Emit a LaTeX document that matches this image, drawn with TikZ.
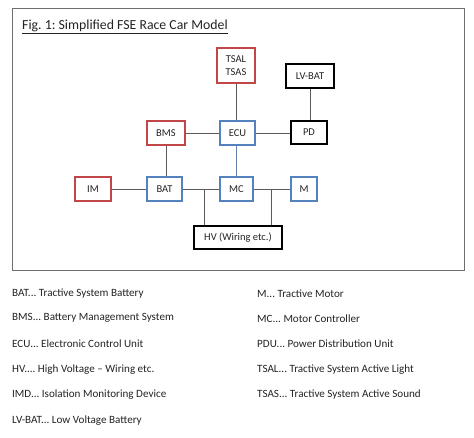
\documentclass[tikz,border=0pt]{standalone}
\usepackage{fontspec}
\setmainfont{Carlito}
\definecolor{boxred}{RGB}{192,70,72}
\definecolor{boxblue}{RGB}{85,130,190}
\definecolor{wire}{RGB}{90,90,90}
\definecolor{framec}{RGB}{110,110,110}
\definecolor{txt}{RGB}{35,35,35}
\begin{document}
\frenchspacing
\begin{tikzpicture}[x=1pt,y=-1pt,
  box/.style={draw,inner sep=0pt,font=\fontsize{10.5}{12}\selectfont,align=center,text=txt},
  redbox/.style={box,draw=boxred,line width=1.1pt},
  bluebox/.style={box,draw=boxblue,line width=1.1pt},
  blackbox/.style={box,draw=black,line width=1.7pt},
  conn/.style={draw=wire,line width=0.8pt},
  legend/.style={anchor=west,inner sep=0pt,text=txt,font=\fontsize{11.1}{13}\selectfont}]
\useasboundingbox (0,0) rectangle (474,437);
\draw[framec,line width=0.9pt] (12,8) rectangle (464,270);
\node[anchor=base west,inner sep=0pt,text=txt,font=\fontsize{13.8}{16}\selectfont] (title) at (22,29) {\underline{Fig. 1: Simplified FSE Race Car Model}};
\node[redbox,minimum width=38pt,minimum height=35pt] (tsal) at (236,65.5) {TSAL\\[1pt]TSAS};
\node[blackbox,minimum width=48pt,minimum height=24pt] (lvbat) at (310,76) {LV-BAT};
\node[redbox,minimum width=38pt,minimum height=24pt] (bms) at (166,133) {BMS};
\node[bluebox,minimum width=35pt,minimum height=24pt] (ecu) at (237.5,133) {ECU};
\node[blackbox,minimum width=36pt,minimum height=23pt] (pd) at (309,132.5) {PD};
\node[redbox,minimum width=36pt,minimum height=24pt] (im) at (93,189) {IM};
\node[bluebox,minimum width=35pt,minimum height=24pt] (bat) at (164.5,189) {BAT};
\node[bluebox,minimum width=33pt,minimum height=24pt] (mc) at (236.5,189) {MC};
\node[bluebox,minimum width=26pt,minimum height=24pt] (m) at (304,189) {M};
\node[blackbox,minimum width=88pt,minimum height=23pt] (hv) at (238,237.5) {HV (Wiring etc.)};
\coordinate (j1) at (204,189);
\coordinate (j2) at (271.7,189);
\draw[conn] (tsal.south) -- (tsal.south |- ecu.north);
\draw[conn] (lvbat.south) -- (lvbat.south |- pd.north);
\draw[conn] (bms.east) -- (ecu.west);
\draw[conn] (ecu.east) -- (ecu.east -| pd.west);
\draw[conn] (bms.south) -- (bms.south |- bat.north);
\draw[draw=boxblue!70!gray,line width=0.6pt] (ecu.south -| mc.north) -- (mc.north);
\draw[conn] (im.east) -- (bat.west);
\draw[conn] (bat.east) -- (mc.west);
\draw[conn] (mc.east) -- (m.west);
\draw[conn] (j1) -- (j1 |- hv.north);
\draw[conn] (j2) -- (j2 |- hv.north);
\node[legend] (l1) at (12,293.3) {BAT... Tractive System Battery};
\node[legend] (l2) at (12,318.3) {BMS... Battery Management System};
\node[legend] (l3) at (12,343.3) {ECU... Electronic Control Unit};
\node[legend] (l4) at (12,369.3) {HV.... High Voltage -- Wiring etc.};
\node[legend] (l5) at (12,395) {IMD... Isolation Monitoring Device};
\node[legend] (l6) at (12,420.7) {LV-BAT... Low Voltage Battery};
\node[legend] (r1) at (257,293.3) {M... Tractive Motor};
\node[legend] (r2) at (257,318.3) {MC... Motor Controller};
\node[legend] (r3) at (257,343.3) {PDU... Power Distribution Unit};
\node[legend] (r4) at (257,369.3) {TSAL... Tractive System Active Light};
\node[legend] (r5) at (257,395) {TSAS... Tractive System Active Sound};
\end{tikzpicture}
\end{document}
